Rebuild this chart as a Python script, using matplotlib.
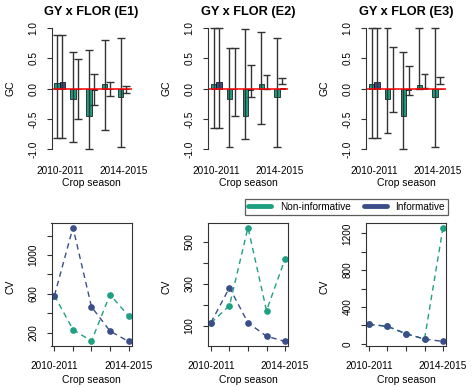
import numpy as np
import matplotlib
matplotlib.use('Agg')
import matplotlib.pyplot as plt
from matplotlib.lines import Line2D

plt.rcParams['font.family'] = ['Liberation Sans', 'DejaVu Sans']
plt.rcParams['font.size'] = 7.2

# dados
seasons = ['2010-2011', '2011-2012', '2012-2013', '2013-2014', '2014-2015']
envs = ['E1', 'E2', 'E3']

gc_noninf = [[0.09, -0.18, -0.45, 0.08, -0.14],
             [0.08, -0.18, -0.45, 0.07, -0.14],
             [0.08, -0.18, -0.45, 0.06, -0.14]]
gc_inf = [[0.11, -0.01, -0.02, -0.01, -0.01],
          [0.10, -0.01, -0.02, -0.01, 0.01],
          [0.10, -0.01, -0.02, -0.01, -0.01]]

lo_noninf = [[-0.81, -0.89, -1.00, -0.68, -0.97],
             [-0.65, -0.96, -0.84, -0.59, -0.96],
             [-0.81, -0.74, -1.00, -0.01, -0.96]]
hi_noninf = [[0.88, 0.60, 0.63, 0.80, 0.83],
             [1.00, 0.67, 0.98, 0.93, 0.83],
             [1.00, 0.99, 0.60, 1.00, 1.00]]
lo_inf = [[-0.81, -0.51, -0.28, -0.13, -0.07],
          [-0.65, -0.46, -0.14, -0.01, 0.07],
          [-0.81, -0.39, -0.11, 0.01, 0.08]]
hi_inf = [[0.88, 0.48, 0.24, 0.10, 0.04],
          [1.00, 0.67, 0.38, 0.23, 0.17],
          [1.00, 0.69, 0.37, 0.24, 0.19]]

cv_noninf = [[583, 231, 114, 593, 372],
             [113, 196, 567, 172, 417],
             [211, 189, 109, 51, 1262]]
cv_inf = [[583, 1283, 466, 217, 110],
          [115, 281, 114, 50, 25],
          [211, 189, 109, 51, 25]]

cv_ticks = [np.arange(200, 1201, 200), np.arange(100, 501, 100), np.arange(0, 1201, 200)]

verde = '#1FA083'
azul = '#3B4E8A'

W, H = 474, 387
fig = plt.figure(figsize=(W / 100, H / 100), dpi=100)


def rect(x0, y0, x1, y1):
    return [x0 / W, 1 - y1 / H, (x1 - x0) / W, (y1 - y0) / H]


def rotulo(x, y, s, **kw):
    # texto posicionado em pixels (origem no canto superior esquerdo)
    fig.text(x / W, 1 - y / H, s, ha='center', va='center', **kw)


lefts = [51.5, 208, 366]
cap = 0.75  # meia largura do traço do intervalo, em unidades de x

for k in range(3):
    L = lefts[k]
    # painel de barras
    ax = fig.add_axes(rect(L, 23, L + 80, 154))
    xg = np.arange(5) * 3 + 1.5
    xi = xg + 1
    ax.bar(xg, gc_noninf[k], width=1, color=verde, edgecolor='black', linewidth=0.5)
    ax.bar(xi, gc_inf[k], width=1, color=azul, edgecolor='black', linewidth=0.5)
    for xs, lo, hi in [(xg, lo_noninf[k], hi_noninf[k]), (xi, lo_inf[k], hi_inf[k])]:
        ax.vlines(xs, lo, hi, color='#333333', lw=1, clip_on=False)
        ax.hlines(lo, xs - cap, xs + cap, color='#333333', lw=1, clip_on=False)
        ax.hlines(hi, xs - cap, xs + cap, color='#333333', lw=1, clip_on=False)
    ax.axhline(0, color='red', lw=1.1)
    ax.set_xlim(0.44, 15.56)
    ax.set_ylim(-1.08, 1.08)
    for s in ['top', 'right', 'bottom']:
        ax.spines[s].set_visible(False)
    ax.spines['left'].set_bounds(-1, 1)
    ax.spines['left'].set_color('#333333')
    ax.set_yticks([-1.0, -0.5, 0.0, 0.5, 1.0])
    ax.set_yticklabels(['-1.0', '-0.5', '0.0', '0.5', '1.0'], rotation=90, va='center')
    ax.tick_params(axis='y', length=3.6, pad=6, color='#333333')
    ax.set_xticks([xg[0] + 0.5, xg[4] + 0.5])
    ax.set_xticklabels([seasons[0], seasons[4]])
    ax.tick_params(axis='x', length=0, pad=9)
    rotulo(L - 41.5, 88, 'GC', rotation=90, fontsize=7.5)
    rotulo(L + 40, 183, 'Crop season', fontsize=7.5)
    rotulo(L + 40, 12, 'GY x FLOR (' + envs[k] + ')', fontweight='bold', fontsize=9.2)

    # painel de linhas
    ax2 = fig.add_axes(rect(L, 223, L + 80, 346))
    x = np.arange(1, 6)
    ax2.plot(x, cv_noninf[k], color=verde, lw=1, marker='o', ms=3.8, dashes=(4, 3))
    ax2.plot(x, cv_inf[k], color=azul, lw=1, marker='o', ms=3.8, dashes=(4, 3))
    ax2.margins(0.04)
    ax2.set_xticks(x)
    ax2.set_xticklabels([seasons[0], '', '', '', seasons[4]])
    t = cv_ticks[k]
    ax2.set_yticks(t)
    ax2.set_yticklabels([str(v) if i % 2 == 0 else '' for i, v in enumerate(t)],
                        rotation=90, va='center')
    ax2.tick_params(length=3.6, pad=7, color='#333333')
    ax2.tick_params(axis='y', pad=6)
    for s in ax2.spines.values():
        s.set_color('#333333')
    rotulo(L - 41.5, 287, 'CV', rotation=90, fontsize=7.5)
    rotulo(L + 40, 380, 'Crop season', fontsize=7.5)

handles = [Line2D([], [], color=verde, lw=3.5, solid_capstyle='round'),
           Line2D([], [], color=azul, lw=3.5, solid_capstyle='round')]
leg = fig.legend(handles, ['Non-informative', 'Informative'], ncol=2,
                 loc='center', bbox_to_anchor=(346.5 / W, 1 - 206.5 / H),
                 frameon=True, fancybox=False, edgecolor='#333333',
                 handlelength=2.3, handletextpad=0.9, columnspacing=1.3,
                 borderpad=0.3, fontsize=7.2)
leg.get_frame().set_linewidth(0.9)

fig.savefig('out.png', dpi=100)
